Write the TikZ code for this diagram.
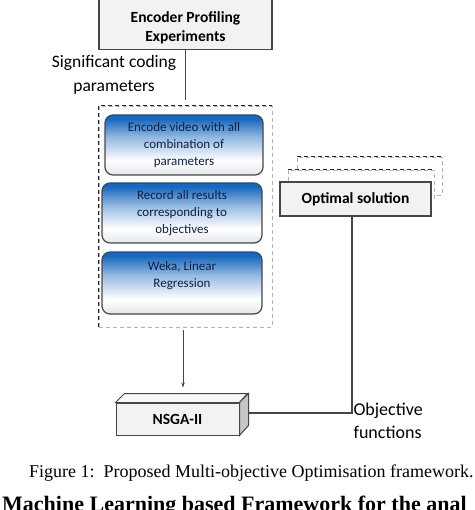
\documentclass[tikz,border=0pt]{standalone}
\usepackage{fontspec}
\setmainfont{Liberation Serif}
\newfontfamily\calfont{Carlito}
\usetikzlibrary{arrows.meta}

\definecolor{stepblue}{RGB}{22,104,192}
\definecolor{steptext}{RGB}{14,32,70}
\definecolor{edgegray}{RGB}{70,70,70}
\definecolor{facegray}{RGB}{242,242,242}
\definecolor{stepfoot}{RGB}{228,230,234}
\pgfdeclareverticalshading{stepshade}{100bp}{color(0bp)=(stepfoot); color(25bp)=(stepfoot);
  color(37bp)=(white); color(56bp)=(stepblue!45); color(72bp)=(stepblue); color(100bp)=(stepblue)}

\tikzset{
  plainbox/.style={draw=edgegray, line width=1.3pt, fill=facegray},
  stepbox/.style={draw=edgegray, line width=1.2pt, rounded corners=8pt,
    shading=stepshade, minimum width=158pt, minimum height=60pt, align=center,
    font=\calfont\fontsize{13}{17}\selectfont, text=steptext},
  groupbox/.style={draw=gray!60, dash pattern=on 4pt off 3pt, line width=.8pt},
  shadowbox/.style={draw=gray!60, fill=white, dash pattern=on 4pt off 3pt, line width=.8pt},
  darkdash/.style={draw=black!85, dash pattern=on 4pt off 3pt, line width=.9pt},
  link/.style={draw=edgegray, line width=1.3pt},
  boldlabel/.style={font=\calfont\bfseries\fontsize{15.5}{19}\selectfont}
}

\begin{document}
\begin{tikzpicture}[x=1pt, y=-1pt]
\useasboundingbox (0,0) rectangle (474,510);
% profiling stage, cut by the top edge
\node [plainbox, minimum width=173pt, minimum height=70pt, anchor=south] (enc) at (185.5,50) {};
\node [boldlabel, align=center] (enclabel) at (185.5,27.5) {Encoder Profiling\\Experiments};
\node [font=\calfont\fontsize{17.5}{24}\selectfont, align=center] (sigtext) at (114,75) {Significant coding\\parameters};
% dashed group of steps
\node [groupbox, minimum width=173pt, minimum height=221pt] (grp) at (185.5,216.5) {};
\draw [darkdash] (grp.south west) -- (grp.north west) -- (grp.north east);
\draw [link] (enc.south) -- ([yshift=6pt]grp.north);
\node [stepbox] (encode) at (184,145) {Encode video with all\\combination of\\parameters};
\node [stepbox, minimum width=160pt] (record) at (182,213) {Record all results\\corresponding to\\objectives};
\node [stepbox, minimum width=160pt, minimum height=62pt] (weka) at (182,283) {Weka, Linear\\Regression\\\mbox{}};
% stacked optimal solutions
\node [shadowbox, minimum width=145pt, minimum height=38pt] (optback) at (369.5,176) {};
\draw [darkdash] (optback.north west) -- (optback.north east);
\node [shadowbox, minimum width=146pt, minimum height=30pt] (optmid) at (361,185) {};
\draw [darkdash] (optmid.north west) -- (optmid.north east);
\node [plainbox, boldlabel, minimum width=151pt, minimum height=34pt] (opt) at (355.5,199) {Optimal solution};
% NSGA-II block
\node [plainbox, line width=1pt, boldlabel, minimum width=123pt, minimum height=32pt] (nsga) at (177.5,419) {NSGA-II};
\filldraw [draw=edgegray, line width=1pt, fill=gray!6] (nsga.north west) -- ++(9,-9) -- ++(123,0) -- (nsga.north east) -- cycle;
\filldraw [draw=edgegray, line width=1pt, fill=gray!45] (nsga.north east) -- ++(9,-9) -- ++(0,32) -- (nsga.south east) -- cycle;
\draw [draw=edgegray, line width=.7pt, -{Stealth[length=5pt, width=3.5pt]}] ([xshift=-2.5pt, yshift=-3pt]grp.south) -- ([xshift=5.5pt, yshift=15pt]nsga.north);
\draw [link] ([xshift=9pt, yshift=6pt]nsga.east) -| ([xshift=-3.5pt]opt.south);
\node [font=\calfont\fontsize{18}{23}\selectfont, align=left, anchor=west] (objtext) at (350,420.5) {Objective\\functions};
% caption and following heading
\node [anchor=base west, inner sep=0pt, font=\fontsize{18}{22}\selectfont] (caption) at (29,477) {Figure 1:\enspace Proposed Multi-objective Optimisation framework.};
\node [anchor=base west, inner sep=0pt, font=\fontsize{22}{26}\selectfont\bfseries] (heading) at (2,511) {Machine Learning based Framework for the anal};
\end{tikzpicture}
\end{document}
